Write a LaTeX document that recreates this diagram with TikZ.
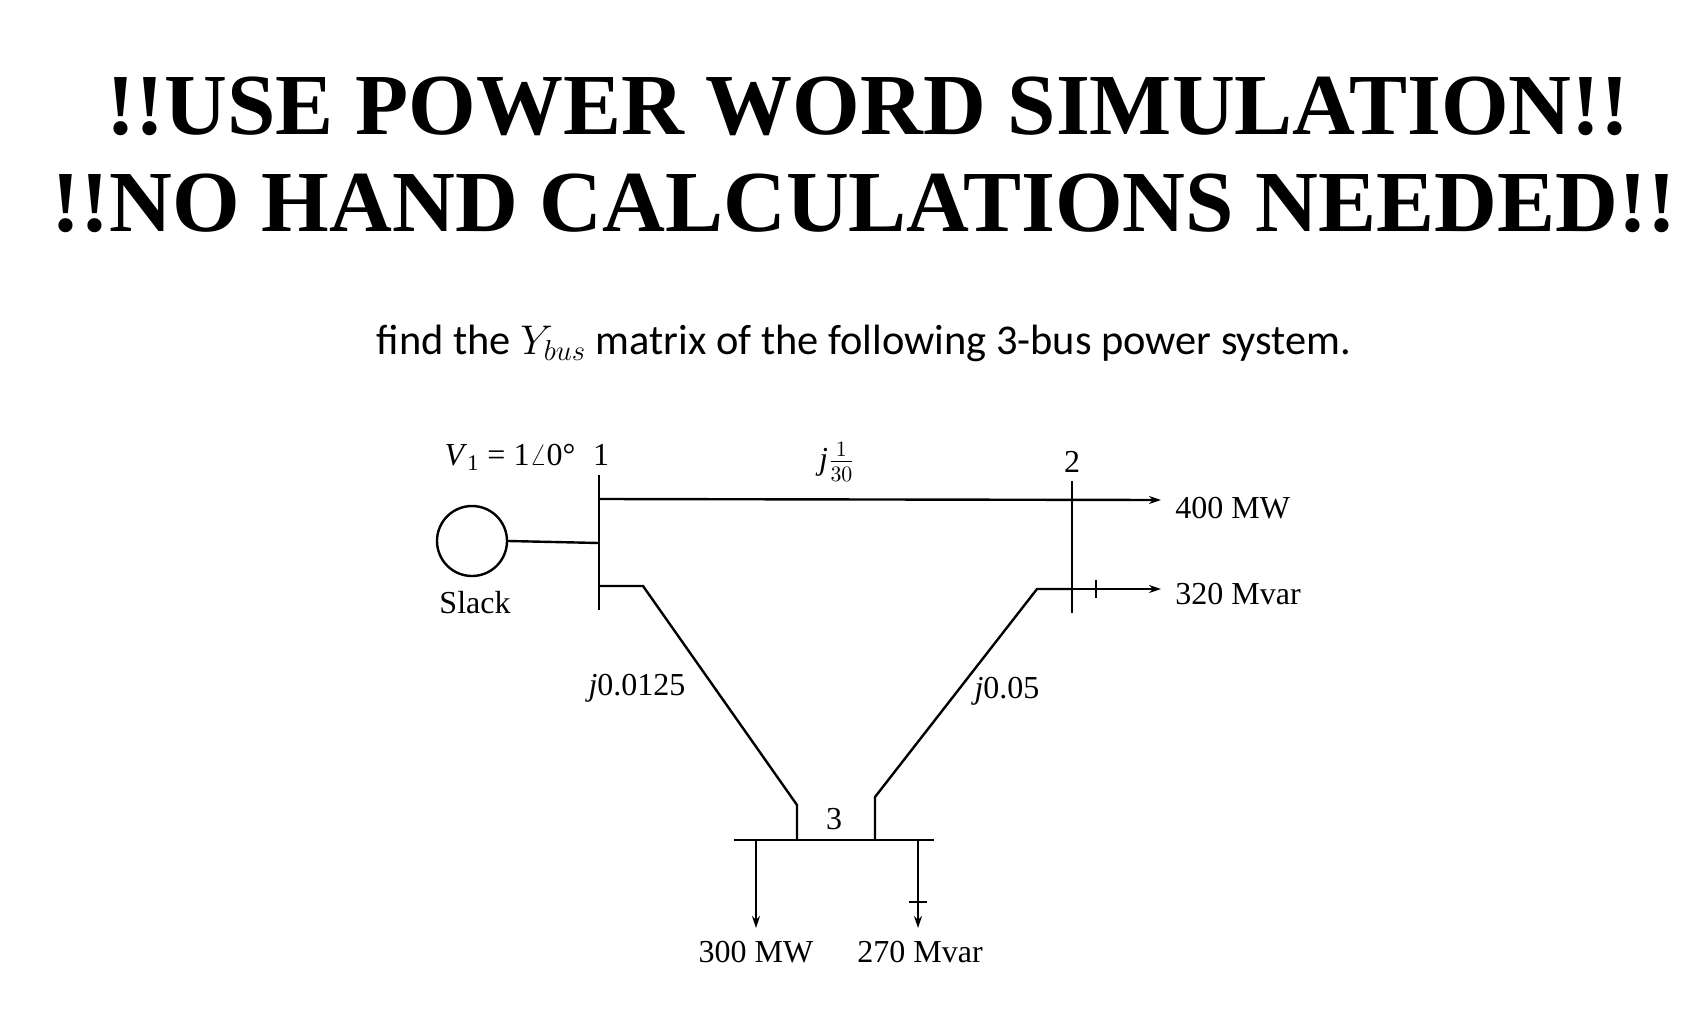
\documentclass[tikz,border=0pt]{standalone}
\usepackage{fontspec}
\setmainfont{Liberation Serif}
\newfontfamily\calfont{Carlito}
\usetikzlibrary{arrows.meta}
\begin{document}
\begin{tikzpicture}[x=0.5pt,y=-0.5pt,
  wire/.style={line width=1.2pt},
  lbl/.style={font=\fontsize{16}{18}\selectfont, inner sep=0pt},
  arr/.style={wire,-{Stealth[length=6pt,width=4pt]}}]
\useasboundingbox (0,0) rectangle (1684,1032);
\node[font=\fontsize{43.5}{50}\selectfont\bfseries, anchor=base] (t1) at (868,135) {!!USE POWER WORD SIMULATION!!};
\node[font=\fontsize{43.5}{50}\selectfont\bfseries, anchor=base] (t2) at (864,232) {!!NO HAND CALCULATIONS NEEDED!!};
\node[font=\calfont\fontsize{21.2}{24}\selectfont, anchor=base] (sub) at (864,354) {find the $Y_{bus}$ matrix of the following 3-bus power system.};
% buses
\coordinate (b1t) at (599,475); \coordinate (b1b) at (599,610);
\coordinate (b2t) at (1072,481); \coordinate (b2b) at (1072,613);
\coordinate (b3l) at (734,840); \coordinate (b3r) at (934,840);
\draw[wire] (b1t) -- (b1b);
\draw[wire] (b2t) -- (b2b);
\draw[wire] (b3l) -- (b3r);
% generator
\node[draw, circle, line width=1.2pt, minimum size=35pt, inner sep=0pt] (gen) at (472,541) {};
\draw[wire] (gen.east) -- (599,543);
% line 1-2
\coordinate (a400) at (1161,500);
\draw[arr] (599,499) -- (a400);
% line 1-3
\draw[wire] (599,586) -- (643,586) -- (797,805) -- (797,840);
% line 2-3
\coordinate (a320) at (1161,589);
\draw[wire] (875,840) -- (875,797) -- (1037,589) -- (1072,589);
\draw[arr] (1072,589) -- (a320);
\draw[wire] (1096,580) -- (1096,598);
% loads
\coordinate (l1) at (756,928); \coordinate (l2) at (918,928);
\draw[arr] (756,840) -- (l1);
\draw[arr] (918,840) -- (l2);
\draw[wire] (909,902) -- (927,902);
% labels
\node[lbl, anchor=west] (p400) at (1175,508) {400 MW};
\node[lbl, anchor=west] (q320) at (1175,594) {320 Mvar};
\node[lbl] (slack) at (475,603) {Slack};
\node[lbl] (v1) at (510,457) {\textit{V}\textsubscript{1} = 1$\angle$0°};
\node[lbl] (n1) at (601,455) {1};
\node[lbl] (n2) at (1072,462) {2};
\node[lbl] (n3) at (834,819) {3};
\node[lbl] (z12) at (837,462) {\textit{j}$\frac{1}{30}$};
\node[lbl] (z13) at (637,688) {\textit{j}0.0125};
\node[lbl] (z23) at (1007,691) {\textit{j}0.05};
\node[lbl] (p300) at (756,952) {300 MW};
\node[lbl] (q270) at (920,952) {270 Mvar};
\end{tikzpicture}
\end{document}
